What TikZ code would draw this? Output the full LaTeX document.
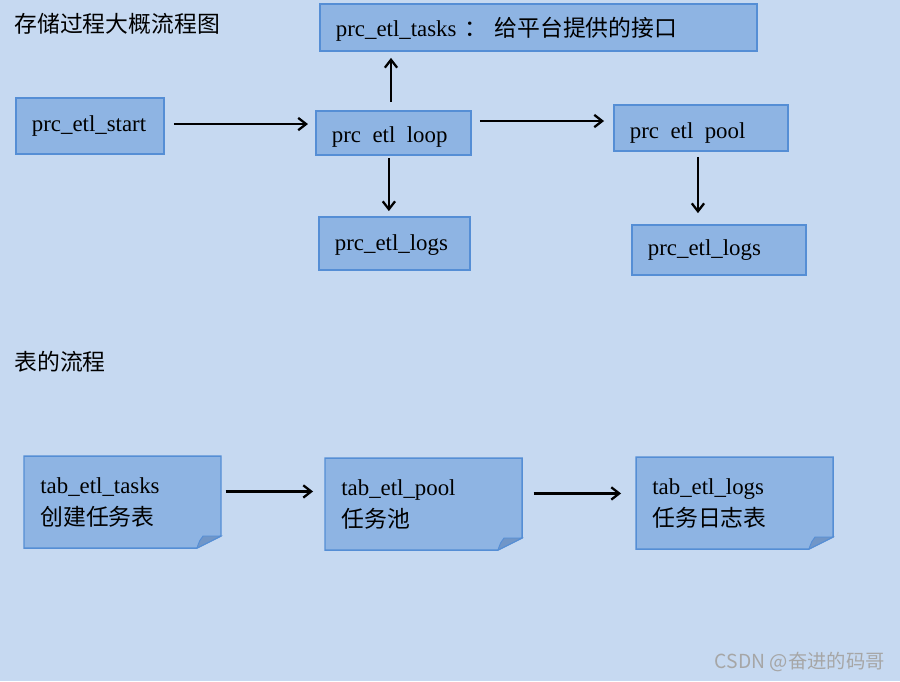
\documentclass[tikz,border=0pt]{standalone}
\usepackage{fontspec}
\setmainfont{Liberation Serif}
\newfontfamily\cjk{Noto Sans CJK SC}
\usetikzlibrary{positioning,arrows.meta,calc}

\definecolor{bgblue}{HTML}{C6D9F1}
\definecolor{boxfill}{HTML}{8EB4E3}
\definecolor{boxline}{HTML}{558ED5}
\definecolor{foldfill}{HTML}{7096C8}

\begin{document}
\begin{tikzpicture}
  [
    x=0.02cm, y=-0.02cm,
    proc box/.style={draw=boxline, fill=boxfill, line width=1.1pt, anchor=north west, inner xsep=0.32cm, inner ysep=0pt, align=left, text depth=2.8pt, font=\fontsize{13}{18}\selectfont},
    note box/.style={anchor=north west, inner xsep=0.32cm, inner ysep=0pt, minimum height=1.84cm, text width=3.30cm, align=left, font=\fontsize{13}{18}\selectfont},
    note shape/.style={draw=boxline, fill=boxfill, line width=0.85pt},
    flow arrow/.style={-{Straight Barb[length=4.5pt,width=7pt]}, line width=1.3pt},
    heading/.style={anchor=west, inner sep=0pt, font=\cjk\fontsize{13}{16}\selectfont},
  ]

  \fill[bgblue] (0,0) rectangle (900,681);

  % stored procedures
  \node[heading] (proctitle) at (14,24) {存储过程大概流程图};

  \node[proc box, text width=2.32cm, minimum height=1.12cm, text height=9pt] (start) at (15,97) {prc\_etl\_start};
  \node[proc box, text width=8.10cm, minimum height=0.94cm, text height=13.4pt] (tasks) at (319,3) {prc\_etl\_tasks {\cjk ： 给平台提供的接口}};
  \node[proc box, text width=2.46cm, minimum height=0.88cm, text height=14.1pt] (loop) at (315,110) {prc\hphantom{\_}etl\hphantom{\_}loop};
  \node[proc box, text width=2.84cm, minimum height=0.92cm, text height=14.9pt] (pool) at (613,104) {prc\hphantom{\_}etl\hphantom{\_}pool};
  \node[proc box, text width=2.38cm, minimum height=1.06cm, text height=11pt] (logsA) at (318,216) {prc\_etl\_logs};
  \node[proc box, text width=2.84cm, minimum height=1.00cm, text height=9pt] (logsB) at (631,224) {prc\_etl\_logs};

  \draw[flow arrow, shorten <=5.1pt, shorten >=4pt] ([yshift=1.1pt]start.east) -- ([yshift=1.1pt]start.east -| loop.west);
  \draw[flow arrow, shorten <=4.5pt, shorten >=3.4pt] ([xshift=-1.4pt]loop.north) -- ([xshift=-1.4pt]loop.north |- tasks.south);
  \draw[flow arrow, shorten <=1.1pt, shorten >=2.8pt] ([xshift=-2.6pt]loop.south) -- ([xshift=-2.6pt]loop.south |- logsA.north);
  \draw[flow arrow, shorten <=4.5pt, shorten >=5.1pt] ([yshift=6.8pt]loop.east) -- ([yshift=6.8pt]loop.east -| pool.west);
  \draw[flow arrow, shorten <=2.8pt, shorten >=6.2pt] ([xshift=-1.7pt]pool.south) -- ([xshift=-1.7pt]pool.south |- logsB.north);

  % tables
  \node[heading] (tabletitle) at (14,362) {表的流程};

  \foreach \name/\xa/\ya/\first/\second in {ntasks/24/456/{tab\_etl\_tasks}/{创建任务表}, npool/325/458/{tab\_etl\_pool}/{任务池}, nlogs/636/457/{tab\_etl\_logs}/{任务日志表}}
    {
     \filldraw[note shape] (\xa,\ya) -- ++(197,0) -- ++(0,80) -- ++(-24,12) -- ++(-173,0) -- cycle;
     \filldraw[fill=foldfill, draw=boxline, line width=0.5pt] (\xa,\ya) ++(173,92) .. controls ++(2,-6) and ++(-3,3) .. ++(6,-12) -- ++(18,0) -- cycle;
     \node[note box] (\name) at (\xa,\ya) {\first\\{\cjk \second}};
    }

  \draw[flow arrow, shorten <=2.3pt, shorten >=6.8pt] ([yshift=6.2pt]ntasks.east) -- ([yshift=6.2pt]ntasks.east -| npool.west);
  \draw[flow arrow, shorten <=6.2pt, shorten >=8.5pt] ([yshift=6.2pt]npool.east) -- ([yshift=6.2pt]npool.east -| nlogs.west);

  \node[anchor=east, inner sep=0pt, text=gray!70, font=\cjk\fontsize{11}{13}\selectfont] (mark) at (885,662) {CSDN @奋进的码哥};

\end{tikzpicture}
\end{document}
